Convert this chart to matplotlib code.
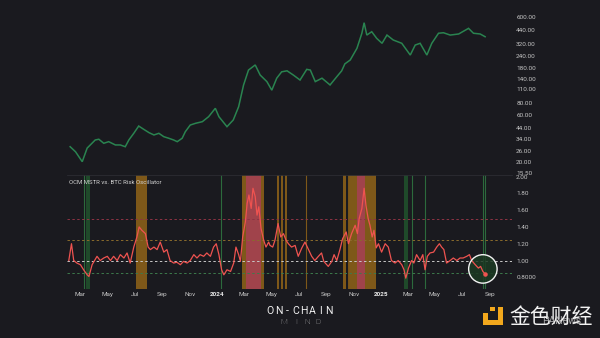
import matplotlib
matplotlib.use("Agg")
import matplotlib.pyplot as plt
import pandas as pd
from matplotlib.patches import Rectangle

# ---------------- DATA ----------------
price_dates = ["2023-02-07", "2023-02-19", "2023-03-06", "2023-03-17", "2023-04-04", "2023-04-12",
               "2023-04-23", "2023-05-04", "2023-05-19", "2023-05-30", "2023-06-10", "2023-06-18",
               "2023-06-29", "2023-07-10", "2023-07-21", "2023-08-02", "2023-08-13", "2023-08-24",
               "2023-09-04", "2023-09-15", "2023-09-26", "2023-10-04", "2023-10-15", "2023-10-22",
               "2023-11-02", "2023-11-14", "2023-11-29", "2023-12-13", "2023-12-28", "2024-01-05",
               "2024-01-23", "2024-02-06", "2024-02-18", "2024-02-29", "2024-03-11", "2024-03-26",
               "2024-04-06", "2024-04-21", "2024-05-02", "2024-05-13", "2024-05-24", "2024-06-05",
               "2024-06-19", "2024-07-04", "2024-07-19", "2024-07-27", "2024-08-07", "2024-08-22",
               "2024-09-09", "2024-09-24", "2024-10-05", "2024-10-12", "2024-10-24", "2024-11-08",
               "2024-11-19", "2024-11-24", "2024-11-30", "2024-12-11", "2024-12-22", "2025-01-03",
               "2025-01-14", "2025-01-28", "2025-02-16", "2025-03-07", "2025-03-18", "2025-03-29",
               "2025-04-13", "2025-04-24", "2025-05-09", "2025-05-20", "2025-06-04", "2025-06-23",
               "2025-07-15", "2025-07-26", "2025-08-10", "2025-08-21"]
price_values = [28.7, 25.5, 20.2, 27.8, 33.6, 34.2,
                31.1, 32.3, 29.9, 29.9, 28.7, 33.6,
                39.3, 46.6, 43.2, 39.9, 37.8, 39.3,
                36.3, 35.0, 33.6, 32.3, 35.0, 40.8,
                47.7, 49.7, 51.6, 58.0, 70.6, 58.0,
                45.9, 53.7, 73.3, 121.9, 173.0, 195.0,
                154.0, 132.0, 108.0, 143.0, 166.0, 170.0,
                154.0, 137.0, 176.0, 173.0, 132.0, 143.0,
                122.0, 148.0, 170.0, 200.0, 219.0, 288.0,
                410.0, 525.0, 393.0, 425.0, 364.0, 324.0,
                393.0, 350.0, 324.0, 246.0, 311.0, 324.0,
                246.0, 324.0, 410.0, 415.0, 393.0, 403.0,
                460.0, 410.0, 403.0, 378.0]

osc_dates = ["2023-02-04", "2023-02-10", "2023-02-15", "2023-02-22", "2023-03-02", "2023-03-09",
             "2023-03-17", "2023-03-21", "2023-03-28", "2023-04-08", "2023-04-15", "2023-04-23",
             "2023-05-01", "2023-05-08", "2023-05-15", "2023-05-23", "2023-05-30", "2023-06-07",
             "2023-06-14", "2023-06-21", "2023-06-29", "2023-07-06", "2023-07-11", "2023-07-17",
             "2023-07-25", "2023-07-31", "2023-08-05", "2023-08-13", "2023-08-20", "2023-08-27",
             "2023-09-04", "2023-09-11", "2023-09-18", "2023-09-26", "2023-10-03", "2023-10-11",
             "2023-10-18", "2023-10-26", "2023-11-02", "2023-11-10", "2023-11-17", "2023-11-24",
             "2023-12-02", "2023-12-09", "2023-12-17", "2023-12-24", "2023-12-30", "2024-01-05",
             "2024-01-11", "2024-01-16", "2024-01-23", "2024-01-31", "2024-02-07", "2024-02-12",
             "2024-02-18", "2024-02-22", "2024-02-27", "2024-03-04", "2024-03-08", "2024-03-12",
             "2024-03-17", "2024-03-21", "2024-03-26", "2024-03-30", "2024-04-03", "2024-04-08",
             "2024-04-14", "2024-04-19", "2024-04-25", "2024-04-28", "2024-05-04", "2024-05-09",
             "2024-05-16", "2024-05-22", "2024-05-28", "2024-06-03", "2024-06-08", "2024-06-15",
             "2024-06-23", "2024-06-30", "2024-07-08", "2024-07-15", "2024-07-23", "2024-07-30",
             "2024-08-06", "2024-08-14", "2024-08-21", "2024-08-26", "2024-09-05", "2024-09-13",
             "2024-09-18", "2024-09-24", "2024-10-01", "2024-10-07", "2024-10-15", "2024-10-20",
             "2024-10-27", "2024-11-04", "2024-11-09", "2024-11-13", "2024-11-19", "2024-11-24",
             "2024-11-28", "2024-12-03", "2024-12-07", "2024-12-12", "2024-12-16", "2024-12-21",
             "2024-12-26", "2025-01-02", "2025-01-10", "2025-01-17", "2025-01-24", "2025-02-01",
             "2025-02-08", "2025-02-16", "2025-02-21", "2025-02-25", "2025-03-03", "2025-03-10",
             "2025-03-15", "2025-03-21", "2025-03-29", "2025-04-04", "2025-04-09", "2025-04-14",
             "2025-04-20", "2025-04-28", "2025-05-05", "2025-05-11", "2025-05-16", "2025-05-21",
             "2025-05-27", "2025-06-04", "2025-06-11", "2025-06-19", "2025-06-26", "2025-07-03",
             "2025-07-11", "2025-07-17", "2025-07-22", "2025-07-30", "2025-08-06", "2025-08-11",
             "2025-08-16", "2025-08-21"]
osc_values = [1.00, 1.20, 1.00, 0.97, 0.95, 0.89,
              0.83, 0.81, 0.95, 1.05, 1.00, 1.03,
              1.05, 1.00, 1.05, 1.00, 1.07, 1.03,
              1.09, 0.97, 1.16, 1.28, 1.40, 1.36,
              1.32, 1.16, 1.13, 1.16, 1.13, 1.22,
              1.10, 1.13, 1.00, 0.97, 0.98, 0.95,
              0.99, 0.97, 1.00, 1.07, 1.03, 1.07,
              1.05, 1.09, 1.05, 1.16, 1.20, 1.07,
              0.89, 0.83, 0.89, 0.87, 0.97, 1.16,
              1.07, 0.99, 1.28, 1.46, 1.68, 1.78,
              1.62, 1.86, 1.76, 1.54, 1.64, 1.38,
              1.24, 1.16, 1.22, 1.18, 1.16, 1.24,
              1.44, 1.28, 1.32, 1.24, 1.20, 1.16,
              1.18, 1.05, 1.15, 1.22, 1.13, 1.05,
              1.00, 1.05, 1.09, 0.99, 0.93, 0.99,
              1.07, 1.00, 1.13, 1.26, 1.34, 1.20,
              1.32, 1.42, 1.32, 1.50, 1.62, 1.86,
              1.66, 1.50, 1.42, 1.28, 1.36, 1.15,
              1.20, 1.10, 1.20, 1.16, 1.00, 0.97,
              1.00, 0.95, 0.89, 0.79, 0.91, 1.00,
              0.97, 1.07, 1.00, 1.07, 0.89, 1.05,
              1.09, 1.10, 1.16, 1.20, 1.16, 1.13,
              0.97, 1.00, 1.03, 1.00, 1.03, 1.03,
              1.05, 1.07, 1.00, 0.95, 0.91, 0.93,
              0.87, 0.84]

# signal zones (start, end, kind)
band_starts = ["2023-03-15", "2023-07-04", "2024-02-25", "2024-03-05", "2024-04-08", "2024-05-14",
               "2024-05-22", "2024-06-01", "2024-10-07", "2024-10-17", "2024-11-08", "2024-11-26",
               "2025-02-22"]
band_ends = ["2023-03-24", "2023-07-29", "2024-03-05", "2024-04-08", "2024-04-15", "2024-05-19",
             "2024-05-28", "2024-06-06", "2024-10-15", "2024-11-08", "2024-11-26", "2024-12-21",
             "2025-03-03"]
band_kinds = ["buy", "warn", "warn", "sell", "warn", "warn",
              "warn", "warn", "warn", "warn", "sell", "warn",
              "buy"]
line_dates = ["2023-03-09", "2024-01-10", "2024-07-17", "2025-03-10", "2025-04-09",
              "2025-08-16", "2025-08-21"]
line_kinds = ["buy", "buy", "warn", "buy", "buy", "buy", "buy"]

levels = [1.5, 1.25, 1.0, 0.85]
level_colors = ["#8e3344", "#8a6b2c", "#c8c8c8", "#3d7a4c"]

price_ticks = [15.5, 20, 26, 34, 44, 60, 80, 110, 140, 180, 240, 320, 440, 600]
osc_ticks = [0.8, 1.0, 1.2, 1.4, 1.6, 1.8, 2.0]
osc_tick_labels = ["0.8000", "1.00", "1.20", "1.40", "1.60", "1.80", "2.00"]
month_ticks = ["2023-03-01", "2023-05-01", "2023-07-01", "2023-09-01", "2023-11-01", "2024-01-01",
               "2024-03-01", "2024-05-01", "2024-07-01", "2024-09-01", "2024-11-01", "2025-01-01",
               "2025-03-01", "2025-05-01", "2025-07-01", "2025-09-01"]
month_labels = ["Mar", "May", "Jul", "Sep", "Nov", "2024", "Mar", "May", "Jul", "Sep", "Nov", "2025",
                "Mar", "May", "Jul", "Sep"]

# ---------------- STYLE ----------------
BG = "#1a1a1f"
TXT = "#c4c4c4"
GREEN = "#2a8450"
RED = "#ef5350"
kind_colors = {"buy": "#1f4a2a", "warn": "#7e5819", "sell": "#a0434b"}
line_colors = {"buy": "#2c6a3c", "warn": "#7e5819"}
plt.rcParams["font.family"] = ["Roboto", "DejaVu Sans"]

W, H = 600, 338
fig = plt.figure(figsize=(W / 100, H / 100), dpi=100, facecolor=BG)
L, R = 67, 512
ax1 = fig.add_axes([L / W, 1 - 174 / H, (R - L) / W, 166 / H])
ax2 = fig.add_axes([L / W, 1 - 289 / H, (R - L) / W, 114 / H], sharex=ax1)

for ax in (ax1, ax2):
    ax.set_facecolor(BG)
    for s in ax.spines.values():
        s.set_visible(False)

xmin, xmax = pd.Timestamp("2023-01-31"), pd.Timestamp("2025-10-20")

# ---- price panel ----
pd_ = pd.to_datetime(price_dates)
ax1.plot(pd_, price_values, color=GREEN, lw=1.1, solid_joinstyle="miter")
ax1.set_yscale("log")
ax1.set_ylim(15.14, 741)
ax1.yaxis.tick_right()
ax1.set_yticks(price_ticks)
ax1.set_yticklabels([f"{t:.2f}" for t in price_ticks])
ax1.yaxis.set_minor_locator(matplotlib.ticker.NullLocator())
ax1.tick_params(axis="y", length=0, pad=3, labelsize=4.6, labelcolor=TXT)
ax1.tick_params(axis="x", length=0, labelbottom=False)
ax1.set_xlim(xmin, xmax)

# ---- oscillator panel ----
for s, e, k in zip(band_starts, band_ends, band_kinds):
    ax2.axvspan(pd.Timestamp(s), pd.Timestamp(e), color=kind_colors[k], lw=0, zorder=1)
for d, k in zip(line_dates, line_kinds):
    ax2.axvline(pd.Timestamp(d), color=line_colors[k], lw=0.8, zorder=1.2)
ax2.axvline(pd.Timestamp("2024-10-16"), color=BG, lw=0.8, zorder=1.3)

for lv, c in zip(levels, level_colors):
    ax2.axhline(lv, color=c, lw=0.7, ls=(0, (2.5, 2.5)), zorder=2)

od = pd.to_datetime(osc_dates)
ax2.scatter([pd.Timestamp("2025-08-16")], [0.90], s=420, facecolor="#1c3a23", edgecolor="none",
            alpha=0.85, zorder=2.5)
ax2.plot(od, osc_values, color=RED, lw=0.9, zorder=3)
ax2.scatter([od[-1]], [osc_values[-1]], s=5, color=RED, zorder=4)
ax2.scatter([pd.Timestamp("2025-08-16")], [0.90], s=420, facecolor="none", edgecolor="#f2f2f2",
            lw=1.0, zorder=5)

ax2.set_ylim(0.661, 2.018)
ax2.yaxis.tick_right()
ax2.set_yticks(osc_ticks)
ax2.set_yticklabels(osc_tick_labels)
ax2.tick_params(axis="y", length=0, pad=3, labelsize=4.6, labelcolor=TXT)
ax2.set_xticks(pd.to_datetime(month_ticks))
ax2.set_xticklabels(month_labels)
ax2.tick_params(axis="x", length=0, pad=2, labelsize=4.6, labelcolor=TXT)
for lbl in ax2.get_xticklabels():
    if lbl.get_text().isdigit():
        lbl.set_fontweight("bold")
        lbl.set_color("#e6e6e6")
ax2.set_xlim(xmin, xmax)

# separator between panels
fig.add_artist(plt.Line2D([L / W, R / W], [1 - 174.5 / H, 1 - 174.5 / H],
                          color="#2c2c33", lw=0.6, transform=fig.transFigure))

fig.text(69 / W, 1 - 183 / H, "OCM MSTR vs. BTC Risk Oscillator", fontsize=4.3,
         color="#d2d2d2", va="center", ha="left")

# ---- branding ----
brand1 = "ON-CHAIN"
for i, ch in enumerate(brand1):
    fig.text((270.3 + i * 8.4) / W, 1 - 311 / H, ch, fontsize=7.6, color="#f0f0f0",
             ha="center", va="center")
for xc, ch in zip([283.7, 295.7, 307.0, 317.7], "MIND"):
    fig.text(xc / W, 1 - 321.7 / H, ch, fontsize=5.8, color="#d0d0d0",
             ha="center", va="center", fontweight="light")

YEL = "#f2a81d"
for (x0, y0, w, h) in [(483, 313, 5, 7), (490, 307, 5, 4), (498, 307, 5, 18), (483, 320, 20, 5)]:
    fig.add_artist(Rectangle((x0, H - y0 - h), w, h, transform=None, color=YEL, lw=0))
fig.text(551 / W, 1 - 316.5 / H, "金色财经", fontsize=15, color="#f2f2f2",
         family=["Noto Sans CJK SC", "DejaVu Sans"], ha="center", va="center")
fig.text(562 / W, 1 - 320.5 / H, "PANews", fontsize=7.5, color="#e0e0e0", alpha=0.7,
         ha="center", va="center")

fig.savefig("out.png", dpi=100, facecolor=BG)
